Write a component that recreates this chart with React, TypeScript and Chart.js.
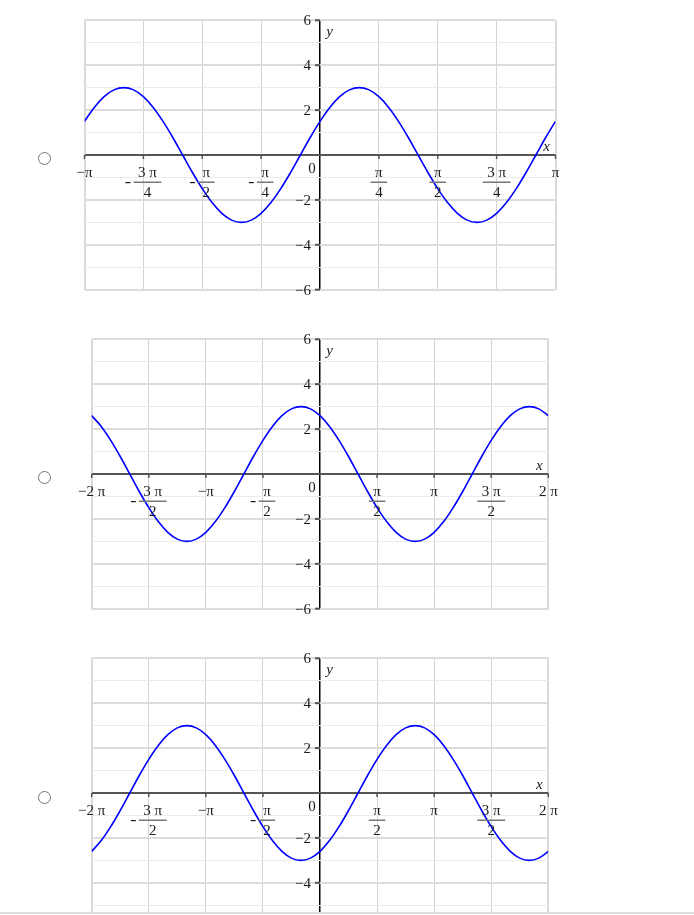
import { useEffect, useRef } from 'react'
import { Chart, LineController, LineElement, PointElement, LinearScale } from 'chart.js'
import type { Plugin } from 'chart.js'

Chart.register(LineController, LineElement, PointElement, LinearScale)

const PI = Math.PI

// panel 1: x in 24ths of pi, y
const X1_STEPS = [
  -24, -23, -22, -21, -20, -19, -18, -17, -16, -15, -14, -13, -12, -11, -10, -9, -8, -7, -6, -5, -4, -3, -2, -1,
  0, 1, 2, 3, 4, 5, 6, 7, 8, 9, 10, 11, 12, 13, 14, 15, 16, 17, 18, 19, 20, 21, 22, 23, 24,
]
const Y1 = [
  1.5, 2.12, 2.6, 2.9, 3, 2.9, 2.6, 2.12, 1.5, 0.78, 0, -0.78, -1.5, -2.12, -2.6, -2.9, -3, -2.9, -2.6, -2.12, -1.5, -0.78, 0, 0.78,
  1.5, 2.12, 2.6, 2.9, 3, 2.9, 2.6, 2.12, 1.5, 0.78, 0, -0.78, -1.5, -2.12, -2.6, -2.9, -3, -2.9, -2.6, -2.12, -1.5, -0.78, 0, 0.78,
  1.5,
]

// panels 2 and 3: x in 12ths of pi
const X2_STEPS = [
  -24, -23, -22, -21, -20, -19, -18, -17, -16, -15, -14, -13, -12, -11, -10, -9, -8, -7, -6, -5, -4, -3, -2, -1,
  0, 1, 2, 3, 4, 5, 6, 7, 8, 9, 10, 11, 12, 13, 14, 15, 16, 17, 18, 19, 20, 21, 22, 23, 24,
]
const Y2 = [
  2.6, 2.12, 1.5, 0.78, 0, -0.78, -1.5, -2.12, -2.6, -2.9, -3, -2.9, -2.6, -2.12, -1.5, -0.78, 0, 0.78, 1.5, 2.12, 2.6, 2.9, 3, 2.9,
  2.6, 2.12, 1.5, 0.78, 0, -0.78, -1.5, -2.12, -2.6, -2.9, -3, -2.9, -2.6, -2.12, -1.5, -0.78, 0, 0.78, 1.5, 2.12, 2.6, 2.9, 3, 2.9,
  2.6,
]
const Y3 = [
  -2.6, -2.12, -1.5, -0.78, 0, 0.78, 1.5, 2.12, 2.6, 2.9, 3, 2.9, 2.6, 2.12, 1.5, 0.78, 0, -0.78, -1.5, -2.12, -2.6, -2.9, -3, -2.9,
  -2.6, -2.12, -1.5, -0.78, 0, 0.78, 1.5, 2.12, 2.6, 2.9, 3, 2.9, 2.6, 2.12, 1.5, 0.78, 0, -0.78, -1.5, -2.12, -2.6, -2.9, -3, -2.9,
  -2.6,
]

const Y_GRID = [-6, -5, -4, -3, -2, -1, 0, 1, 2, 3, 4, 5, 6]
const Y_LABELS = [6, 4, 2, -2, -4, -6]

// x grid / labels in units of pi
const X1_GRID = [-1, -0.75, -0.5, -0.25, 0, 0.25, 0.5, 0.75, 1]
const X2_GRID = [-2, -1.5, -1, -0.5, 0, 0.5, 1, 1.5, 2]

interface PiLabel { at: number; neg?: boolean; num: string; den?: string }

const X1_LABELS: PiLabel[] = [
  { at: -1, num: '−π' },
  { at: -0.75, neg: true, num: '3 π', den: '4' },
  { at: -0.5, neg: true, num: 'π', den: '2' },
  { at: -0.25, neg: true, num: 'π', den: '4' },
  { at: 0.25, num: 'π', den: '4' },
  { at: 0.5, num: 'π', den: '2' },
  { at: 0.75, num: '3 π', den: '4' },
  { at: 1, num: 'π' },
]

const X2_LABELS: PiLabel[] = [
  { at: -2, num: '−2 π' },
  { at: -1.5, neg: true, num: '3 π', den: '2' },
  { at: -1, num: '−π' },
  { at: -0.5, neg: true, num: 'π', den: '2' },
  { at: 0.5, num: 'π', den: '2' },
  { at: 1, num: 'π' },
  { at: 1.5, num: '3 π', den: '2' },
  { at: 2, num: '2 π' },
]

const FONT = '15px "Liberation Serif", "DejaVu Serif", serif'
const INK = '#1a1a1a'

const isZero = (v: number) => Math.abs(v) < 1e-9

function mathAxes(labels: PiLabel[]): Plugin<'line'> {
  return {
    id: 'mathAxes',
    afterDraw(chart) {
      const { ctx, chartArea } = chart
      const xs = chart.scales.x
      const ys = chart.scales.y
      const ax = xs.getPixelForValue(0)
      const ay = ys.getPixelForValue(0)
      ctx.save()
      ctx.font = FONT
      ctx.textBaseline = 'middle'

      // y ticks + labels
      Y_LABELS.forEach(v => {
        const py = ys.getPixelForValue(v)
        ctx.fillStyle = '#555'
        ctx.fillRect(ax - 5, py - 1, 5, 2)
        ctx.fillStyle = INK
        ctx.textAlign = 'right'
        ctx.fillText(v < 0 ? '−' + Math.abs(v) : String(v), ax - 9, py + 1)
      })

      // x ticks + labels
      labels.forEach(l => {
        const px = xs.getPixelForValue(l.at * PI)
        ctx.fillStyle = '#555'
        ctx.fillRect(px - 0.75, ay, 1.5, 4)
        ctx.fillStyle = INK
        ctx.textAlign = 'center'
        if (!l.den) {
          ctx.fillText(l.num, px, ay + 18)
          return
        }
        const w = Math.max(ctx.measureText(l.num).width, ctx.measureText(l.den).width) + 9
        const total = l.neg ? w + 8 : w
        const x0 = px - total / 2
        const bx = l.neg ? x0 + 8 : x0
        if (l.neg) ctx.fillRect(x0, ay + 27, 5, 1.2)
        ctx.fillStyle = '#777'
        ctx.fillRect(bx, ay + 26.5, w, 1.5)
        ctx.fillStyle = INK
        ctx.fillText(l.num, bx + w / 2, ay + 18)
        ctx.fillText(l.den, bx + w / 2, ay + 38.5)
      })

      // origin and axis names
      ctx.textAlign = 'center'
      ctx.fillText('0', ax - 8, ay + 14.5)
      ctx.font = 'italic ' + FONT
      ctx.fillText('y', ax + 9.5, chartArea.top + 11.5)
      ctx.fillText('x', chartArea.right - 9, ay - 8)
      ctx.restore()
    },
  }
}

interface PanelProps {
  top: number
  padX: number
  xs: number[]
  ys: number[]
  xUnit: number
  xMaxPi: number
  grid: number[]
  labels: PiLabel[]
}

function Panel({ top, padX, xs, ys, xUnit, xMaxPi, grid, labels }: PanelProps) {
  const canvasRef = useRef<HTMLCanvasElement>(null)

  useEffect(() => {
    if (!canvasRef.current) return
    const xMin = -xMaxPi * PI
    const xMax = xMaxPi * PI
    const isEdge = (v: number) => Math.abs(Math.abs(v) - xMax) < 1e-6
    const chart = new Chart(canvasRef.current, {
      type: 'line',
      data: {
        datasets: [{
          data: xs.map((k, i) => ({ x: k * xUnit, y: ys[i] })),
          borderColor: '#0000ff',
          borderWidth: 1.6,
          pointRadius: 0,
          fill: false,
          cubicInterpolationMode: 'monotone',
        }],
      },
      options: {
        responsive: true,
        maintainAspectRatio: false,
        animation: false,
        events: [],
        layout: { padding: { left: padX, right: padX, top: 12.3, bottom: 10.3 } },
        plugins: { legend: { display: false }, tooltip: { enabled: false } },
        scales: {
          x: {
            type: 'linear', min: xMin, max: xMax,
            afterBuildTicks: s => { s.ticks = grid.map(v => ({ value: v * PI })) },
            ticks: { display: false },
            border: { display: false },
            grid: {
              drawTicks: false,
              color: c => isZero(c.tick.value) ? '#000' : (isEdge(c.tick.value) ? '#dadada' : '#d4d4d4'),
              lineWidth: c => isZero(c.tick.value) ? 1.5 : (isEdge(c.tick.value) ? 2 : 1),
            },
          },
          y: {
            type: 'linear', min: -6, max: 6,
            afterBuildTicks: s => { s.ticks = Y_GRID.map(v => ({ value: v })) },
            ticks: { display: false },
            border: { display: false },
            grid: {
              drawTicks: false,
              color: c => c.tick.value === 0 ? '#555' : (c.tick.value % 2 === 0 ? '#dcdcdc' : '#ebebeb'),
              lineWidth: c => c.tick.value === 0 ? 2 : (c.tick.value % 2 === 0 ? 2 : 1),
            },
          },
        },
      },
      plugins: [mathAxes(labels)],
    })
    return () => chart.destroy()
  }, [xs, ys, xUnit, xMaxPi, grid, labels, padX])

  return (
    <div style={{ position: 'absolute', left: 60, top, width: 520, height: 292 }}>
      <canvas ref={canvasRef} />
    </div>
  )
}

export default function App() {
  const radio = (top: number) => (
    <input type="radio" name="answer" style={{ position: 'absolute', left: 37.5, top, margin: 0, width: 13, height: 13 }} />
  )
  return (
    <div style={{ position: 'absolute', left: 0, top: 0, width: 694, height: 915, overflow: 'hidden', background: '#fff' }}>
      <div style={{ position: 'absolute', left: 0, top: 0, width: 694, height: 912, overflow: 'hidden' }}>
        <Panel top={7.7} padX={24.5} xs={X1_STEPS} ys={Y1} xUnit={PI / 24} xMaxPi={1} grid={X1_GRID} labels={X1_LABELS} />
        <Panel top={327} padX={31.7} xs={X2_STEPS} ys={Y2} xUnit={PI / 12} xMaxPi={2} grid={X2_GRID} labels={X2_LABELS} />
        <Panel top={646} padX={31.7} xs={X2_STEPS} ys={Y3} xUnit={PI / 12} xMaxPi={2} grid={X2_GRID} labels={X2_LABELS} />
      </div>
      {radio(151.5)}
      {radio(470.5)}
      {radio(790.5)}
      <div style={{ position: 'absolute', left: 0, top: 912, width: 694, height: 2, background: '#dddddd' }} />
    </div>
  )
}
